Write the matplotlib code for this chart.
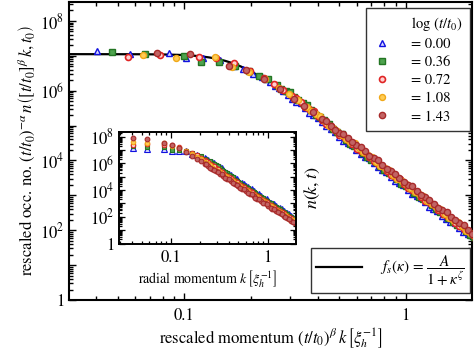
import numpy as np
import matplotlib
matplotlib.use('Agg')
import matplotlib.pyplot as plt
from matplotlib.ticker import LogLocator, FuncFormatter, NullFormatter
from matplotlib.lines import Line2D

plt.rcParams['font.family'] = ['STIXGeneral', 'DejaVu Serif']
plt.rcParams['mathtext.fontset'] = 'stix'

# ---------------- data ----------------
log_times = [0.00, 0.36, 0.72, 1.08, 1.43]
series_labels = ['= 0.00', '= 0.36', '= 0.72', '= 1.08', '= 1.43']

# radial momentum grid k [xi_h^-1]
k_radial = [0.0405, 0.057, 0.0855, 0.102, 0.122, 0.145, 0.167, 0.185, 0.204,
            0.224, 0.245, 0.268, 0.293, 0.320, 0.350, 0.383, 0.419, 0.458,
            0.500, 0.547, 0.598, 0.654, 0.715, 0.781, 0.854, 0.934, 1.02,
            1.12, 1.22, 1.33, 1.46, 1.59, 1.74, 1.90]
# additional lattice momenta in the dense region
k_radial_extra = [0.234, 0.256, 0.280, 0.306, 0.335, 0.366, 0.401, 0.438, 0.479,
                  0.523, 0.572, 0.625, 0.684, 0.747, 0.817, 0.893, 0.976, 1.07,
                  1.17, 1.27, 1.39, 1.52, 1.66, 1.82]

# log10 of rescaled occupation number (t/t0)^-alpha n
logn_t0 = [7.14, 7.06, 7.08, 6.94, 6.94, 6.89, 6.71, 6.63, 6.48, 6.38, 6.24, 6.08,
           5.88, 5.69, 5.50, 5.29, 5.09, 4.90, 4.68, 4.49, 4.30, 4.11, 3.92, 3.73,
           3.54, 3.35, 3.16, 2.97, 2.80, 2.62, 2.42, 2.25, 2.06, 1.88]
logn_t1 = [7.10, 7.05, 7.00, 6.81, 6.82, 6.70, 6.58, 6.43, 6.33, 6.16, 6.00, 5.83,
           5.64, 5.44, 5.24, 5.04, 4.82, 4.59, 4.41, 4.21, 4.02, 3.83, 3.64, 3.46,
           3.27, 3.08, 2.90, 2.71, 2.53, 2.35, 2.16, 1.98, 1.80, 1.62]
logn_t2 = [6.96, 7.03, 6.96, 6.95, 6.80, 6.56, 6.36, 6.20, 6.02, 5.86, 5.67, 5.47,
           5.27, 5.06, 4.86, 4.66, 4.47, 4.28, 4.09, 3.90, 3.71, 3.52, 3.33, 3.15,
           2.96, 2.78, 2.59, 2.40, 2.22, 2.05, 1.85, 1.68, 1.49, 1.31]
logn_t3 = [7.03, 6.94, 6.96, 6.69, 6.55, 6.33, 6.09, 5.91, 5.74, 5.54, 5.34, 5.13,
           4.93, 4.73, 4.54, 4.35, 4.16, 3.97, 3.79, 3.59, 3.40, 3.22, 3.03, 2.85,
           2.67, 2.48, 2.30, 2.11, 1.93, 1.75, 1.56, 1.38, 1.20, 1.02]
logn_t4 = [7.08, 7.04, 6.72, 6.60, 6.35, 6.04, 5.77, 5.56, 5.38, 5.19, 5.00, 4.80,
           4.64, 4.45, 4.26, 4.07, 3.88, 3.69, 3.50, 3.31, 3.13, 2.94, 2.76, 2.57,
           2.39, 2.21, 2.02, 1.83, 1.65, 1.48, 1.28, 1.11, 0.92, 0.74]

logn_extra_t0 = [6.34, 6.13, 6.00, 5.77, 5.64, 5.37, 5.22, 4.98, 4.82, 4.55, 4.43, 4.19,
                 4.06, 3.80, 3.67, 3.42, 3.30, 3.05, 2.92, 2.67, 2.55, 2.31, 2.20, 1.94]
logn_extra_t1 = [6.05, 5.95, 5.72, 5.58, 5.31, 5.16, 4.90, 4.75, 4.48, 4.34, 4.09, 3.96,
                 3.72, 3.59, 3.34, 3.21, 2.95, 2.84, 2.60, 2.47, 2.23, 2.11, 1.87, 1.74]
logn_extra_t2 = [5.79, 5.54, 5.41, 5.15, 4.99, 4.73, 4.59, 4.34, 4.22, 3.98, 3.85, 3.59,
                 3.46, 3.22, 3.10, 2.84, 2.71, 2.47, 2.35, 2.12, 1.98, 1.73, 1.62, 1.38]
logn_extra_t3 = [5.42, 5.28, 5.00, 4.85, 4.61, 4.49, 4.24, 4.10, 3.84, 3.72, 3.48, 3.34,
                 3.10, 2.98, 2.74, 2.61, 2.36, 2.23, 1.98, 1.87, 1.64, 1.51, 1.26, 1.14]
logn_extra_t4 = [5.14, 4.87, 4.75, 4.53, 4.40, 4.14, 4.01, 3.75, 3.62, 3.38, 3.26, 3.02,
                 2.88, 2.64, 2.52, 2.28, 2.15, 1.89, 1.77, 1.55, 1.42, 1.17, 1.04, 0.80]

logn_all = [logn_t0, logn_t1, logn_t2, logn_t3, logn_t4]
logn_extra_all = [logn_extra_t0, logn_extra_t1, logn_extra_t2, logn_extra_t3, logn_extra_t4]

# scaling exponents and fit parameters
alpha = 0.55
beta = 0.19
A_fit = 1.12e7
k0_fit = 0.172
zeta_fit = 5.0

# ---------------- styles ----------------
styles = [
    dict(marker='^', mfc='#d8d8ff', mec='#1010e0', ms=5.0, mew=1.0),
    dict(marker='s', mfc='#4ea34e', mec='#237523', ms=4.5, mew=1.0),
    dict(marker='o', mfc='#ffd0d0', mec='#e02525', ms=4.3, mew=1.2),
    dict(marker='o', mfc='#ffcc55', mec='#f0a818', ms=4.3, mew=1.0),
    dict(marker='o', mfc='#c26464', mec='#a82a2a', ms=4.5, mew=1.0),
]

W, H = 474, 351
fig = plt.figure(figsize=(W / 100, H / 100), dpi=100)
ax = fig.add_axes([69 / W, 1 - 300 / H, (472 - 69) / W, (300 - 2) / H])

k_all = np.array(k_radial + k_radial_extra)
for L, logn, logn_x, st in zip(log_times, logn_all, logn_extra_all, styles):
    y = 10 ** np.array(logn + logn_x)
    ax.plot(k_all * 10 ** (beta * L), y, ls='none', zorder=3, **st)

kappa = np.logspace(np.log10(0.03), np.log10(2.0), 400)
ax.plot(kappa, A_fit / (1 + (kappa / k0_fit) ** zeta_fit), color='black', lw=1.6, zorder=2.9)

ax.set_xscale('log')
ax.set_yscale('log')
ax.set_xlim(0.0302, 1.99)
ax.set_ylim(1, 3.5e8)


def ylab(v, pos):
    e = int(round(np.log10(v)))
    if e % 2:
        return ''
    return '1' if e == 0 else r'$10^{%d}$' % e


def xlab(v, pos):
    e = int(round(np.log10(v)))
    return {-1: '0.1', 0: '1', 1: '10'}.get(e, '')


def style_axis(a):
    a.yaxis.set_major_locator(LogLocator(base=10, numticks=30))
    a.yaxis.set_minor_locator(LogLocator(base=10, subs=np.arange(2, 10), numticks=30))
    a.yaxis.set_major_formatter(FuncFormatter(ylab))
    a.yaxis.set_minor_formatter(NullFormatter())
    a.xaxis.set_major_formatter(FuncFormatter(xlab))
    a.xaxis.set_minor_formatter(NullFormatter())


style_axis(ax)
ax.tick_params(which='both', direction='in', top=True, right=True, labelsize=12, width=1.0)
ax.tick_params(which='major', length=5)
ax.tick_params(which='minor', length=3)
ax.tick_params(axis='x', pad=6)
for s in ax.spines.values():
    s.set_linewidth(1.5)

ax.set_xlabel(r'rescaled momentum $(t/t_0)^{\beta}\, k\, \left[\xi_h^{-1}\right]$', fontsize=12, labelpad=1)
ax.set_ylabel(r'rescaled occ. no. $(t/t_0)^{-\alpha}\, n\left([t/t_0]^{\beta}\, k, t_0\right)$',
              fontsize=12, labelpad=2)

# legends
h_title = Line2D([], [], ls='none', marker='')
handles = [h_title] + [Line2D([], [], ls='none', **st) for st in styles]
labels = [r'$\log\,(t/t_0)$'] + series_labels
leg1 = ax.legend(handles, labels, loc='upper right', bbox_to_anchor=(0.995, 0.98),
                 fontsize=10.5, frameon=True, fancybox=False, edgecolor='#333333',
                 framealpha=1, handlelength=1.2, handletextpad=1.4, labelspacing=0.32,
                 borderpad=0.5, borderaxespad=0)
leg1.get_frame().set_linewidth(1.0)
ax.add_artist(leg1)

h_fit = Line2D([], [], color='black', lw=1.6)
leg2 = ax.legend([h_fit], [r'$f_s(\kappa)\,=\,\dfrac{A}{1+\kappa^{\zeta}}$'], loc='lower right',
                 bbox_to_anchor=(0.995, 0.0235), fontsize=11, frameon=True, fancybox=False,
                 edgecolor='#333333', framealpha=1, handlelength=3.0, handletextpad=1.2,
                 borderpad=0.35, borderaxespad=0)
leg2.get_frame().set_linewidth(1.0)

# inset
axi = fig.add_axes([119 / W, 1 - 243.5 / H, (296 - 119) / W, (243.5 - 132) / H])
for L, logn, logn_x, st in zip(log_times, logn_all, logn_extra_all, styles):
    sti = dict(st)
    sti['ms'] = st['ms'] * 0.75
    sti['mew'] = 0.8
    axi.plot(k_all, 10 ** (np.array(logn + logn_x) + alpha * L), ls='none', **sti)
axi.set_xscale('log')
axi.set_yscale('log')
axi.set_xlim(0.0293, 1.96)
axi.set_ylim(1, 2.2e8)
style_axis(axi)
axi.tick_params(which='both', direction='in', top=True, right=True, labelsize=12, width=0.9)
axi.tick_params(which='major', length=4)
axi.tick_params(which='minor', length=2.5)
axi.tick_params(axis='x', pad=5)
for s in axi.spines.values():
    s.set_linewidth(1.4)
axi.set_xlabel(r'radial momentum $k\,\left[\xi_h^{-1}\right]$', fontsize=10, labelpad=1)
axi.yaxis.set_label_position('right')
axi.set_ylabel(r'$n(k,t)$', fontsize=13, labelpad=5, rotation=90)

fig.savefig('out.png', dpi=100)
